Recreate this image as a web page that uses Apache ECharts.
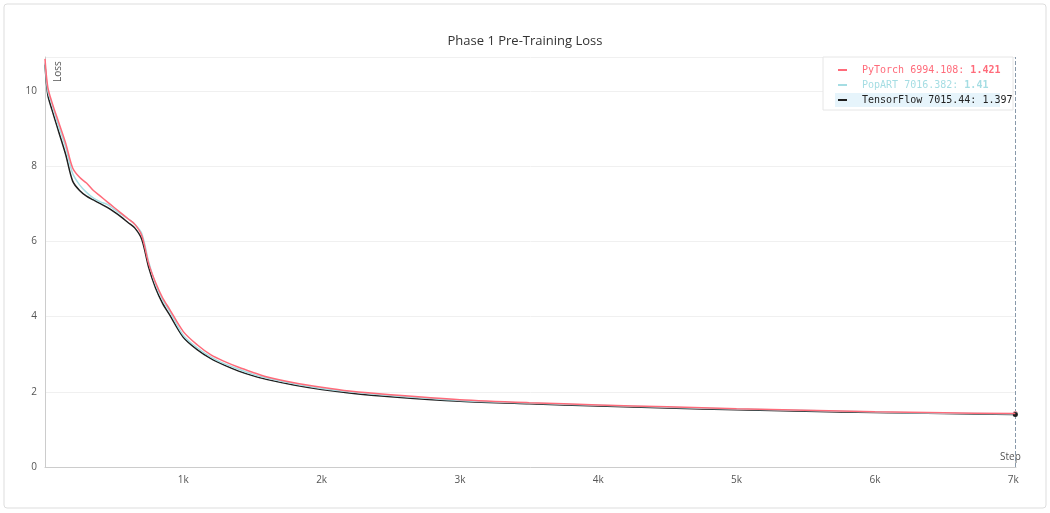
<!DOCTYPE html><html><head><meta charset="utf-8"><script src="https://cdn.jsdelivr.net/npm/echarts@6/dist/echarts.min.js"></script>
<style>html,body{margin:0;background:#fff}#c{width:1050px;height:513px}</style></head><body><div id="c"></div><script>
const steps=[0,20,50,100,150,200,250,300,350,400,450,500,550,600,650,700,750,800,850,900,1000,1100,1200,1300,1400,1500,1600,1800,2000,2200,2500,3000,3500,4000,4500,5000,5500,6000,6500,7015];
const pytorch=[10.85,10.1,9.7,9.15,8.6,7.95,7.7,7.55,7.35,7.2,7.05,6.9,6.75,6.6,6.45,6.15,5.4,4.9,4.5,4.2,3.6,3.25,2.98,2.8,2.65,2.52,2.4,2.24,2.12,2.02,1.92,1.79,1.71,1.65,1.6,1.55,1.51,1.47,1.44,1.421];
const popart=[10.75,10.0,9.65,9.05,8.5,7.8,7.5,7.3,7.15,7.05,6.98,6.85,6.72,6.6,6.45,6.2,5.45,4.85,4.45,4.15,3.5,3.17,2.92,2.74,2.6,2.47,2.37,2.21,2.09,2.0,1.9,1.77,1.7,1.64,1.59,1.54,1.5,1.46,1.43,1.41];
const tensorflow=[10.7,9.9,9.5,8.9,8.3,7.6,7.35,7.2,7.1,7.0,6.9,6.78,6.65,6.5,6.35,6.05,5.3,4.75,4.35,4.05,3.45,3.12,2.88,2.7,2.55,2.43,2.33,2.18,2.06,1.97,1.87,1.75,1.68,1.62,1.57,1.52,1.48,1.45,1.42,1.397];
const names=['PyTorch','PopART','TensorFlow'];
const lastSteps=['6994.108','7016.382','7015.44'];
const colors=['#ff6b7a','#a5dde3','#1f1f1f'];
const all=[pytorch,popart,tensorflow];
const ch=echarts.init(document.getElementById('c'));
const F='"Open Sans", sans-serif';
const legendEls=[];
names.forEach((n,i)=>{
  const y=70+i*15;
  if(i===2) legendEls.push({type:'rect',shape:{x:835,y:y-7,width:165,height:14},style:{fill:'#e6f4fb'}});
  legendEls.push({type:'rect',shape:{x:838,y:y-1,width:9,height:2},style:{fill:colors[i]}});
  legendEls.push({type:'text',x:862,y:y,style:{text:'{a|'+n+' '+lastSteps[i]+': }{b|'+all[i][all[i].length-1]+'}',verticalAlign:'middle',rich:{a:{fontFamily:'DejaVu Sans Mono',fontSize:10,fill:i===2?'#222':colors[i]},b:{fontFamily:'DejaVu Sans Mono',fontSize:10,fontWeight:i===2?'normal':'bold',fill:i===2?'#222':colors[i]}}}});
});
ch.setOption({
  animation:false,
  title:{text:'Phase 1 Pre-Training Loss',left:'center',top:30,textStyle:{fontFamily:F,fontSize:13,fontWeight:'normal',color:'#333'}},
  grid:{left:45,right:34,top:57,bottom:46},
  graphic:[{type:'rect',shape:{x:4,y:4,width:1042,height:504,r:3},style:{fill:'none',stroke:'#ddd'},z:-1},
    {type:'rect',shape:{x:823,y:57,width:190,height:53},style:{fill:'#fff',stroke:'#e6e6e6'},z:10},
    ...legendEls.map(e=>Object.assign(e,{z:11})),
    {type:'text',x:1000,y:452,style:{text:'Step',fontFamily:F,fontSize:10,fill:'#555'}},
    {type:'text',x:53,y:82,rotation:Math.PI/2,style:{text:'Loss',fontFamily:F,fontSize:10,fill:'#555'}}],
  xAxis:{type:'value',min:0,max:7020,interval:1000,axisLine:{lineStyle:{color:'#ccc'}},axisTick:{show:false},splitLine:{show:false},
    axisLabel:{fontFamily:F,fontSize:10,color:'#555',formatter:v=>v===0?'':(v/1000)+'k'}},
  yAxis:{type:'value',min:0,max:10.9,interval:2,axisLine:{show:true,lineStyle:{color:'#ccc'}},axisTick:{show:false},
    splitLine:{lineStyle:{color:'#f0f0f0'}},axisLabel:{fontFamily:F,fontSize:10,color:'#555',showMaxLabel:false}},
  series:all.map((d,i)=>({name:names[i],type:'line',smooth:0.3,symbol:'none',data:steps.map((s,j)=>[s,d[j]]),lineStyle:{color:colors[i],width:1.5},z:3-i+2,
    markPoint:{symbol:'circle',symbolSize:5,label:{show:false},itemStyle:{color:colors[i]},data:[{coord:[steps[steps.length-1],d[d.length-1]]}]},
    markLine:i===2?{symbol:'none',silent:true,label:{show:false},lineStyle:{color:'#8899aa',type:'dashed',width:1},data:[{xAxis:7015}]}:undefined}))
});
</script></body></html>
